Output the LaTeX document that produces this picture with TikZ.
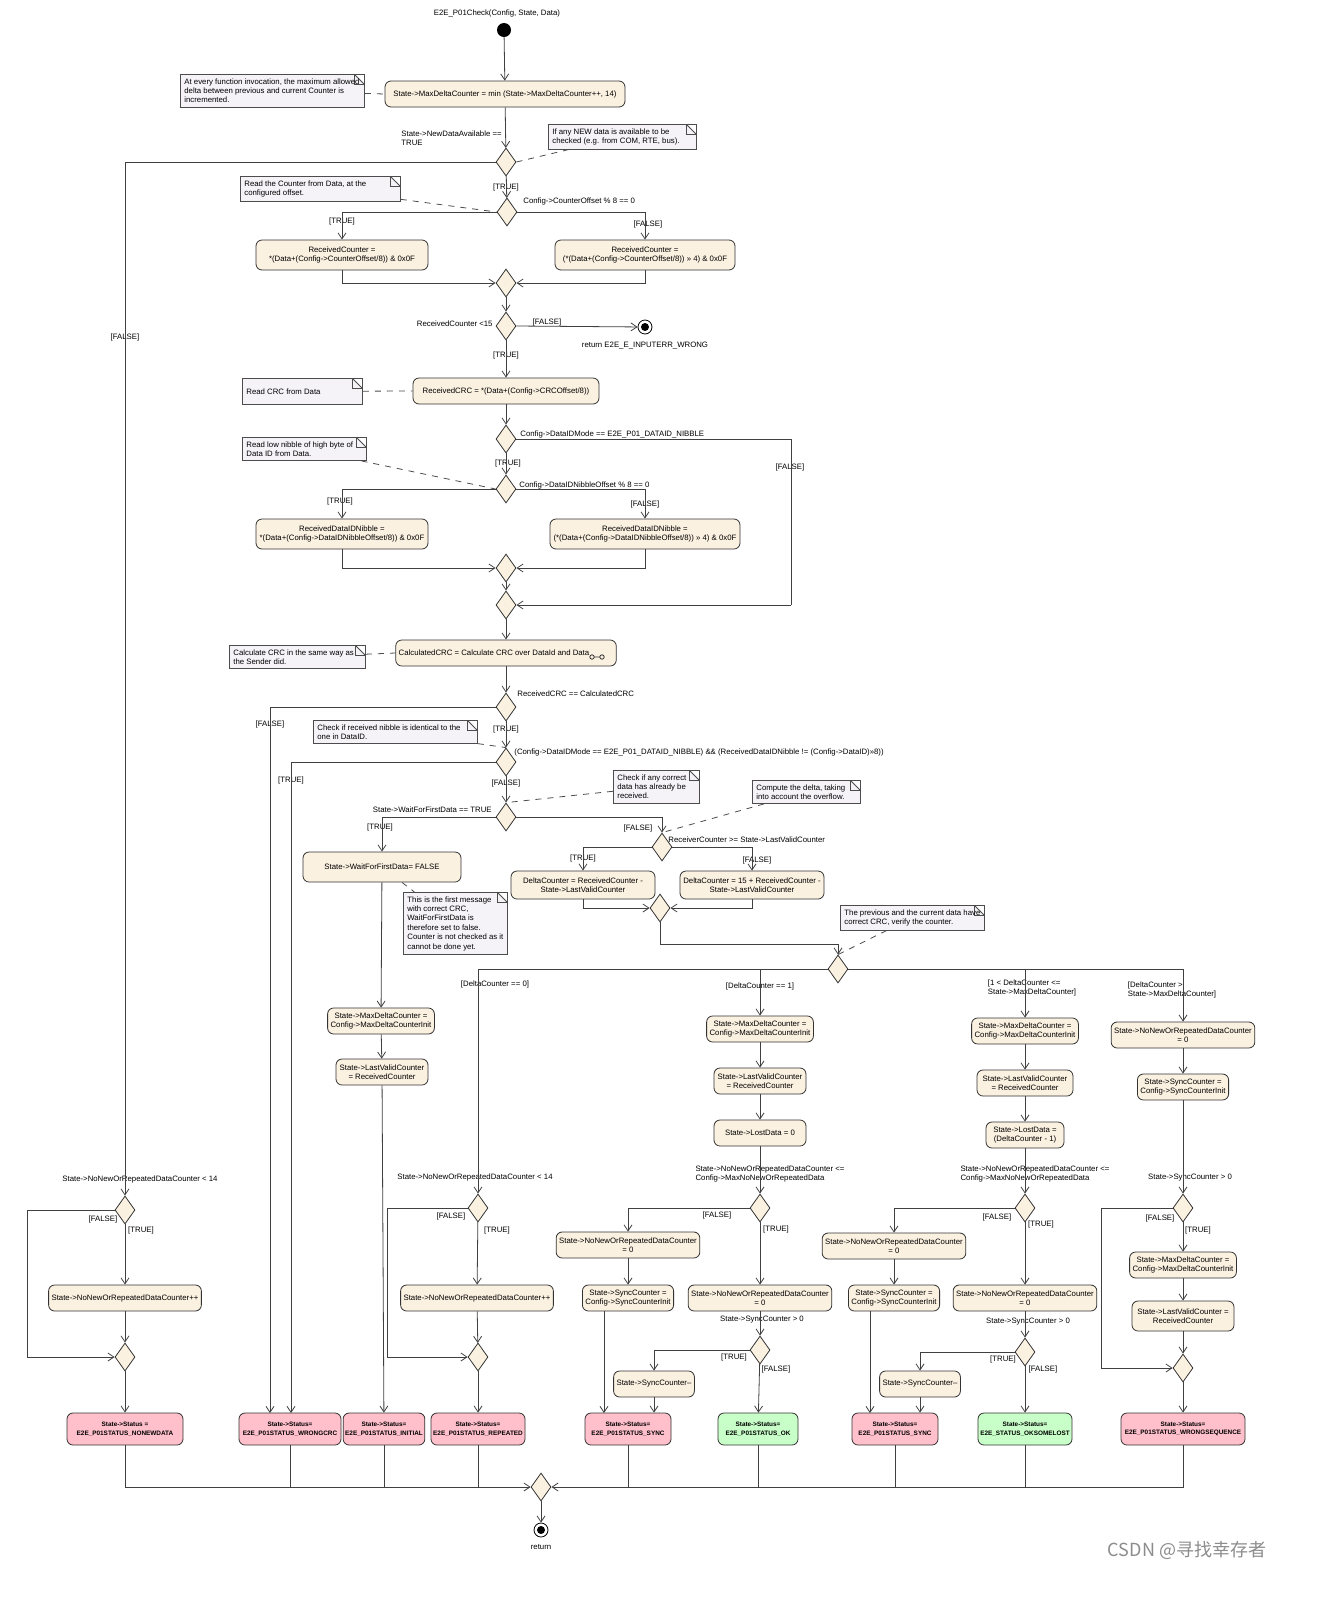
\documentclass[tikz,border=0pt]{standalone}
\usepackage{fontspec}
\setmainfont{Liberation Sans}
\newfontfamily\cjk{Noto Sans CJK SC}
\usetikzlibrary{shapes.geometric,arrows.meta}
\definecolor{actc}{HTML}{FBF1E1}
\definecolor{pinkc}{HTML}{FFC0CB}
\definecolor{greenc}{HTML}{C8FFC8}
\definecolor{notec}{HTML}{F5F3F8}
\newcommand{\nohy}{\hyphenpenalty=10000\exhyphenpenalty=10000\relax}
\begin{document}
\begin{tikzpicture}[x=0.5pt,y=-0.5pt,
 every node/.style={font=\fontsize{3.9}{4.7}\selectfont},
 act/.style={draw=black!80, rounded corners=3pt, fill=actc, align=center, inner sep=1.5pt, minimum height=13pt},
 stat/.style={act, fill=pinkc, font=\fontsize{3.2}{4.3}\selectfont\bfseries, minimum height=16pt, inner sep=1pt},
 gstat/.style={stat, fill=greenc},
 dia/.style={diamond, draw=black!80, fill=actc, inner sep=0, minimum width=10pt, minimum height=14pt},
 note/.style={draw=black!70, fill=notec, align=flush left, inner sep=2pt, anchor=north west,
   execute at begin node=\nohy,
   path picture={\fill[white] ([xshift=-5pt]path picture bounding box.north east) -- (path picture bounding box.north east) -- ([yshift=-5pt]path picture bounding box.north east) -- cycle;
   \draw[black!70] ([xshift=-5pt]path picture bounding box.north east) -- ([xshift=-5pt,yshift=-5pt]path picture bounding box.north east) -- ([yshift=-5pt]path picture bounding box.north east) -- cycle;}},
 arr/.style={draw=black!75, -{Straight Barb[length=3pt,width=4pt]}},
 ln/.style={draw=black!75},
 nl/.style={draw=black!70, dashed},
 lab/.style={inner sep=0.5pt, align=left}]
\useasboundingbox[fill=white] (0,0) rectangle (1317,1607);

% ---------- top ----------
\node[lab] (title) at (497,13) {E2E\_P01Check(Config, State, Data)};
\node[circle, fill=black, minimum size=7pt, inner sep=0] (start) at (504,30) {};
\node[act, minimum width=120pt] (A1) at (505,94) {State->MaxDeltaCounter = min (State->MaxDeltaCounter++, 14)};
\node[note, text width=88pt] (N1) at (180,74) {At every function invocation, the maximum allowed delta between previous and current Counter is incremented.};
\node[dia] (D1) at (506,162) {};
\node[lab, anchor=west] (l1) at (400,138) {State->NewDataAvailable ==\\TRUE};
\node[note, text width=70pt] (N2) at (548,124) {If any NEW data is available to be checked (e.g. from COM, RTE, bus).};
\node[lab] (l2) at (506,187) {[TRUE]};
\node[lab] (l3) at (125,337) {[FALSE]};
\node[dia] (D2) at (507,212) {};
\node[lab, anchor=west] (l4) at (522,201) {Config->CounterOffset \% 8 == 0};
\node[note, text width=76pt] (N3) at (240,176) {Read the Counter from Data, at the configured offset.};
\node[lab] (l5) at (342,221) {[TRUE]};
\node[lab] (l6) at (648,224) {[FALSE]};
\node[act, minimum width=86pt, minimum height=15pt] (A2) at (342,255) {ReceivedCounter =\\*(Data+(Config->CounterOffset/8)) \& 0x0F};
\node[act, minimum width=90pt, minimum height=15pt] (A3) at (645,255) {ReceivedCounter =\\(*(Data+(Config->CounterOffset/8)) >> 4) \& 0x0F};
\node[dia] (M1) at (506,283) {};
\node[dia] (D3) at (506,326) {};
\node[lab, anchor=east] (l7) at (494,324) {ReceivedCounter <15};
\node[lab] (l8) at (547,322) {[FALSE]};
\node[circle, draw=black, minimum size=7pt, inner sep=0, path picture={\fill (path picture bounding box.center) circle (2pt);}] (E1) at (645,327) {};
\node[lab] (l9) at (645,346) {return E2E\_E\_INPUTERR\_WRONG};
\node[lab] (l10) at (506,355) {[TRUE]};
\node[act, minimum width=93pt] (A4) at (506,391) {ReceivedCRC = *(Data+(Config->CRCOffset/8))};
\node[note, text width=56pt, minimum height=13pt] (N4) at (242,378) {Read CRC from Data};
\node[dia] (D4) at (506,439) {};
\node[lab, anchor=west] (l11) at (519,434) {Config->DataIDMode == E2E\_P01\_DATAID\_NIBBLE};
\node[lab] (l12) at (790,467) {[FALSE]};
\node[lab] (l13) at (508,463) {[TRUE]};
\coordinate (c1) at (791,605);
\node[dia] (D5) at (506,489) {};
\node[lab, anchor=west] (l14) at (518,485) {Config->DataIDNibbleOffset \% 8 == 0};
\node[note, text width=58pt] (N5) at (242,437) {Read low nibble of high byte of Data ID from Data.};
\node[lab] (l15) at (340,501) {[TRUE]};
\node[lab] (l16) at (645,504) {[FALSE]};
\node[act, minimum width=86pt, minimum height=15pt] (A5) at (342,534) {ReceivedDataIDNibble =\\*(Data+(Config->DataIDNibbleOffset/8)) \& 0x0F};
\node[act, minimum width=95pt, minimum height=15pt] (A6) at (645,534) {ReceivedDataIDNibble =\\(*(Data+(Config->DataIDNibbleOffset/8)) >> 4) \& 0x0F};
\node[dia] (M2) at (506,568) {};
\node[dia] (M3) at (506,605) {};
\node[act, minimum width=103pt, minimum height=13pt] (A7) at (506,653) {CalculatedCRC = Calculate CRC over DataId and Data\hspace{12pt}};
\draw[black!80] (592,657) circle (2.2) (602,657) circle (2.2) (594,657) -- (600,657);
\node[note, text width=64pt] (N6) at (229,645) {Calculate CRC in the same way as the Sender did.};
\node[dia] (D6) at (506,707) {};
\node[lab, anchor=west] (l17) at (516,694) {ReceivedCRC == CalculatedCRC};
\node[lab] (l18) at (270,724) {[FALSE]};
\node[lab] (l19) at (506,729) {[TRUE]};
\node[dia] (D7) at (506,762) {};
\node[lab, anchor=west] (l20) at (513,752) {(Config->DataIDMode == E2E\_P01\_DATAID\_NIBBLE) \&\& (ReceivedDataIDNibble != (Config->DataID)>>8))};
\node[note, text width=78pt] (N7) at (313,720) {Check if received nibble is identical to the one in DataID.};
\node[lab] (l21) at (291,780) {[TRUE]};
\node[lab] (l22) at (506,783) {[FALSE]};
\node[dia] (D8) at (506,817) {};
\node[lab, anchor=east] (l23) at (493,810) {State->WaitForFirstData == TRUE};
\node[note, text width=39pt] (N8) at (613,770) {Check if any correct data has already be received.};
\node[lab] (l24) at (380,827) {[TRUE]};
\node[lab] (l25) at (638,828) {[FALSE]};
\node[act, minimum width=79pt, minimum height=15pt] (A8) at (382,867) {State->WaitForFirstData= FALSE};
\node[note, text width=48pt] (N9) at (403,892) {This is the first message with correct CRC, WaitForFirstData is therefore set to false. Counter is not checked as it cannot be done yet.};
\node[act, minimum width=52pt] (A9) at (381,1021) {State->MaxDeltaCounter =\\Config->MaxDeltaCounterInit};
\node[act, minimum width=46pt] (A10) at (382,1072) {State->LastValidCounter\\= ReceivedCounter};
\node[dia] (D9) at (662,847) {};
\node[lab, anchor=west] (l26) at (667,840) {ReceiverCounter >= State->LastValidCounter};
\node[note, text width=50pt] (N10) at (752,780) {Compute the delta, taking into account the overflow.};
\node[lab] (l27) at (583,858) {[TRUE]};
\node[lab] (l28) at (757,860) {[FALSE]};
\node[act, minimum width=72pt, minimum height=14pt] (A11) at (583,885) {DeltaCounter = ReceivedCounter -\\State->LastValidCounter};
\node[act, minimum width=72pt, minimum height=14pt] (A12) at (752,885) {DeltaCounter = 15 + ReceivedCounter -\\State->LastValidCounter};
\node[dia] (M4) at (660,908) {};
\node[dia] (D10) at (838,969) {};
\node[note, text width=68pt] (N11) at (840,905) {The previous and the current data have correct CRC, verify the counter.};
\coordinate (b1) at (760,969);
\coordinate (b2) at (1025,969);
\node[lab] (l29) at (495,984) {[DeltaCounter == 0]};
\node[lab] (l30) at (760,986) {[DeltaCounter == 1]};
\node[lab] (l31) at (1032,988) {[1 < DeltaCounter <=\\State->MaxDeltaCounter]};
\node[lab] (l32) at (1172,990) {[DeltaCounter >\\State->MaxDeltaCounter]};

% ---------- column DeltaCounter == 1 ----------
\node[act, minimum width=52pt] (A13) at (760,1029) {State->MaxDeltaCounter =\\Config->MaxDeltaCounterInit};
\node[act, minimum width=46pt] (A14) at (760,1081) {State->LastValidCounter\\= ReceivedCounter};
\node[act, minimum width=46pt] (A15) at (760,1133) {State->LostData = 0};
\node[lab] (l33) at (770,1174) {State->NoNewOrRepeatedDataCounter <=\\Config->MaxNoNewOrRepeatedData};
\node[dia] (D12) at (760,1208) {};
\node[lab] (l34) at (717,1215) {[FALSE]};
\node[lab] (l35) at (776,1229) {[TRUE]};
\node[act, minimum width=70pt] (A16) at (628,1245) {State->NoNewOrRepeatedDataCounter\\= 0};
\node[act, minimum width=70pt] (A18) at (760,1298) {State->NoNewOrRepeatedDataCounter\\= 0};
\node[act, minimum width=43pt] (A19) at (628,1298) {State->SyncCounter =\\Config->SyncCounterInit};
\node[lab] (l36) at (762,1320) {State->SyncCounter > 0};
\node[dia] (D13) at (760,1350) {};
\node[lab] (l37) at (734,1357) {[TRUE]};
\node[lab] (l38) at (776,1369) {[FALSE]};
\node[act, minimum width=38pt] (A20) at (654,1384) {State->SyncCounter--};

% ---------- column 1 < DeltaCounter ----------
\node[act, minimum width=52pt] (A17) at (1025,1031) {State->MaxDeltaCounter =\\Config->MaxDeltaCounterInit};
\node[act, minimum width=48pt] (A22) at (1025,1083) {State->LastValidCounter\\= ReceivedCounter};
\node[act, minimum width=39pt] (A23) at (1025,1135) {State->LostData =\\(DeltaCounter - 1)};
\node[lab] (l39) at (1035,1174) {State->NoNewOrRepeatedDataCounter <=\\Config->MaxNoNewOrRepeatedData};
\node[dia] (D14) at (1025,1208) {};
\node[lab] (l40) at (997,1217) {[FALSE]};
\node[lab] (l41) at (1041,1224) {[TRUE]};
\node[act, minimum width=70pt] (A24) at (894,1246) {State->NoNewOrRepeatedDataCounter\\= 0};
\node[act, minimum width=70pt] (A25) at (1025,1298) {State->NoNewOrRepeatedDataCounter\\= 0};
\node[act, minimum width=43pt] (A26) at (894,1298) {State->SyncCounter =\\Config->SyncCounterInit};
\node[lab] (l42) at (1028,1322) {State->SyncCounter > 0};
\node[dia] (D15) at (1025,1352) {};
\node[lab] (l43) at (1003,1359) {[TRUE]};
\node[lab] (l44) at (1043,1369) {[FALSE]};
\node[act, minimum width=38pt] (A27) at (920,1384) {State->SyncCounter--};

% ---------- column DeltaCounter > Max ----------
\node[act, minimum width=70pt] (A21) at (1183,1035) {State->NoNewOrRepeatedDataCounter\\= 0};
\node[act, minimum width=43pt] (A28) at (1183,1087) {State->SyncCounter =\\Config->SyncCounterInit};
\node[lab] (l45) at (1190,1178) {State->SyncCounter > 0};
\node[dia] (D16) at (1183,1208) {};
\node[lab] (l46) at (1160,1218) {[FALSE]};
\node[lab] (l47) at (1198,1230) {[TRUE]};
\node[act, minimum width=51pt] (A29) at (1183,1265) {State->MaxDeltaCounter =\\Config->MaxDeltaCounterInit};
\node[act, minimum width=51pt, minimum height=15pt] (A30) at (1183,1316) {State->LastValidCounter =\\ReceivedCounter};
\node[dia] (M6) at (1183,1368) {};

% ---------- left columns ----------
\node[lab] (l48) at (140,1179) {State->NoNewOrRepeatedDataCounter < 14};
\node[dia] (D11a) at (125,1210) {};
\node[lab] (l49) at (103,1219) {[FALSE]};
\node[lab] (l50) at (141,1230) {[TRUE]};
\node[act, minimum width=74pt] (A31) at (125,1298) {State->NoNewOrRepeatedDataCounter++};
\node[dia] (Ma) at (125,1357) {};
\node[lab] (l51) at (475,1177) {State->NoNewOrRepeatedDataCounter < 14};
\node[dia] (D11b) at (478,1208) {};
\node[lab] (l52) at (451,1216) {[FALSE]};
\node[lab] (l53) at (497,1230) {[TRUE]};
\node[act, minimum width=74pt] (A32) at (477,1298) {State->NoNewOrRepeatedDataCounter++};
\node[dia] (Mb) at (478,1357) {};

% ---------- status ----------
\node[stat, minimum width=58pt] (S1) at (125,1429) {State->Status =\\E2E\_P01STATUS\_NONEWDATA};
\node[stat, minimum width=51pt] (S2) at (290,1429) {State->Status=\\E2E\_P01STATUS\_WRONGCRC};
\node[stat, minimum width=39pt] (S3) at (384,1429) {State->Status=\\E2E\_P01STATUS\_INITIAL};
\node[stat, minimum width=47pt] (S4) at (478,1429) {State->Status=\\E2E\_P01STATUS\_REPEATED};
\node[stat, minimum width=43pt] (S5) at (628,1429) {State->Status=\\E2E\_P01STATUS\_SYNC};
\node[gstat, minimum width=40pt] (S6) at (758,1429) {State->Status=\\E2E\_P01STATUS\_OK};
\node[stat, minimum width=43pt] (S7) at (895,1429) {State->Status=\\E2E\_P01STATUS\_SYNC};
\node[gstat, minimum width=47pt] (S8) at (1025,1429) {State->Status=\\E2E\_STATUS\_OKSOMELOST};
\node[stat, minimum width=62pt] (S9) at (1183,1429) {State->Status=\\E2E\_P01STATUS\_WRONGSEQUENCE};
\coordinate (wc1) at (270,1413);
\coordinate (wc2) at (291,1413);
\coordinate (sy1) at (604,1413);
\coordinate (sy2) at (870,1413);
\node[dia] (F) at (541,1487) {};
\node[circle, draw=black, minimum size=7pt, inner sep=0, path picture={\fill (path picture bounding box.center) circle (2pt);}] (E2) at (541,1530) {};
\node[lab] (l54) at (541,1547) {return};
\node[text=black!45, font=\cjk\fontsize{9}{10}\selectfont] (wm) at (1187,1550) {CSDN @寻找幸存者};

% ---------- connectors ----------
\draw[arr] (start) -- (A1);
\draw[nl] (N1) -- (A1.west);
\draw[arr] (A1) -- (D1);
\draw[nl] (N2) -- (D1.east);
\draw[arr] (D1.west) -| (D11a.north);
\draw[arr] (D1) -- (D2);
\draw[nl] (N3) -- (D2.west);
\draw[arr] (D2.west) -| (A2.north);
\draw[arr] (D2.east) -| (A3.north);
\draw[arr] (A2.south) |- (M1.west);
\draw[arr] (A3.south) |- (M1.east);
\draw[arr] (M1) -- (D3);
\draw[arr] (D3.east) -- (E1);
\draw[arr] (D3) -- (A4);
\draw[nl] (N4) -- (A4.west);
\draw[arr] (A4) -- (D4);
\draw[ln] (D4.east) -| (c1);
\draw[arr] (c1) -- (M3.east);
\draw[arr] (D4) -- (D5);
\draw[nl] (N5) -- (D5.west);
\draw[arr] (D5.west) -| (A5.north);
\draw[arr] (D5.east) -| (A6.north);
\draw[arr] (A5.south) |- (M2.west);
\draw[arr] (A6.south) |- (M2.east);
\draw[arr] (M2) -- (M3);
\draw[arr] (M3) -- (A7);
\draw[nl] (N6) -- (A7.west);
\draw[arr] (A7) -- (D6);
\draw[arr] (D6.west) -| (wc1);
\draw[arr] (D6) -- (D7);
\draw[nl] (N7) -- (D7.north);
\draw[arr] (D7.west) -| (wc2);
\draw[arr] (D7) -- (D8);
\draw[nl] (N8) -- (D8.north);
\draw[arr] (D8.west) -| (A8.north);
\draw[arr] (D8.east) -| (D9.north);
\draw[nl] (A8) -- (N9);
\draw[arr] (A8) -- (A9);
\draw[arr] (A9) -- (A10);
\draw[arr] (A10) -- (S3);
\draw[nl] (N10) -- (D9.north);
\draw[arr] (D9.west) -| (A11.north);
\draw[arr] (D9.east) -| (A12.north);
\draw[arr] (A11.south) |- (M4.west);
\draw[arr] (A12.south) |- (M4.east);
\draw[arr] (M4.south) -- ++(0,22) -| (D10.north);
\draw[nl] (N11) -- (D10.north);
\draw[arr] (D10.west) -| (D11b.north);
\draw[arr] (D10.east) -| (A21.north);
\draw[arr] (b1) -- (A13);
\draw[arr] (b2) -- (A17);
% col 1
\draw[arr] (A13) -- (A14);
\draw[arr] (A14) -- (A15);
\draw[arr] (A15) -- (D12);
\draw[arr] (D12.west) -| (A16.north);
\draw[arr] (D12) -- (A18);
\draw[arr] (A16) -- (A19);
\draw[arr] (A19.south -| sy1) -- (sy1);
\draw[arr] (A18) -- (D13);
\draw[arr] (D13.west) -| (A20.north);
\draw[arr] (A20.south) -- (A20.south |- S5.north);
\draw[arr] (D13) -- (S6);
% col 2
\draw[arr] (A17) -- (A22);
\draw[arr] (A22) -- (A23);
\draw[arr] (A23) -- (D14);
\draw[arr] (D14.west) -| (A24.north);
\draw[arr] (D14) -- (A25);
\draw[arr] (A24) -- (A26);
\draw[arr] (A26.south -| sy2) -- (sy2);
\draw[arr] (A25) -- (D15);
\draw[arr] (D15.west) -| (A27.north);
\draw[arr] (A27.south) -- (A27.south |- S7.north);
\draw[arr] (D15) -- (S8);
% col 3
\draw[arr] (A21) -- (A28);
\draw[arr] (A28) -- (D16);
\draw[arr] (D16) -- (A29);
\draw[arr] (A29) -- (A30);
\draw[arr] (A30) -- (M6);
\draw[arr] (D16.west) -- ++(-71,0) |- (M6.west);
\draw[arr] (M6) -- (S9);
% left cols
\draw[arr] (D11a) -- (A31);
\draw[arr] (A31) -- (Ma);
\draw[arr] (D11a.west) -- ++(-87,0) |- (Ma.west);
\draw[arr] (Ma) -- (S1);
\draw[arr] (D11b) -- (A32);
\draw[arr] (A32) -- (Mb);
\draw[arr] (D11b.west) -- ++(-80,0) |- (Mb.west);
\draw[arr] (Mb) -- (S4);
% final
\draw[arr] (S1.south) |- (F.west);
\draw[arr] (S9.south) |- (F.east);
\foreach \s in {S2,S3,S4} \draw[ln] (\s.south) -- (\s.south |- F.west);
\foreach \s in {S5,S6,S7,S8} \draw[ln] (\s.south) -- (\s.south |- F.east);
\draw[arr] (F) -- (E2);
\end{tikzpicture}
\end{document}
